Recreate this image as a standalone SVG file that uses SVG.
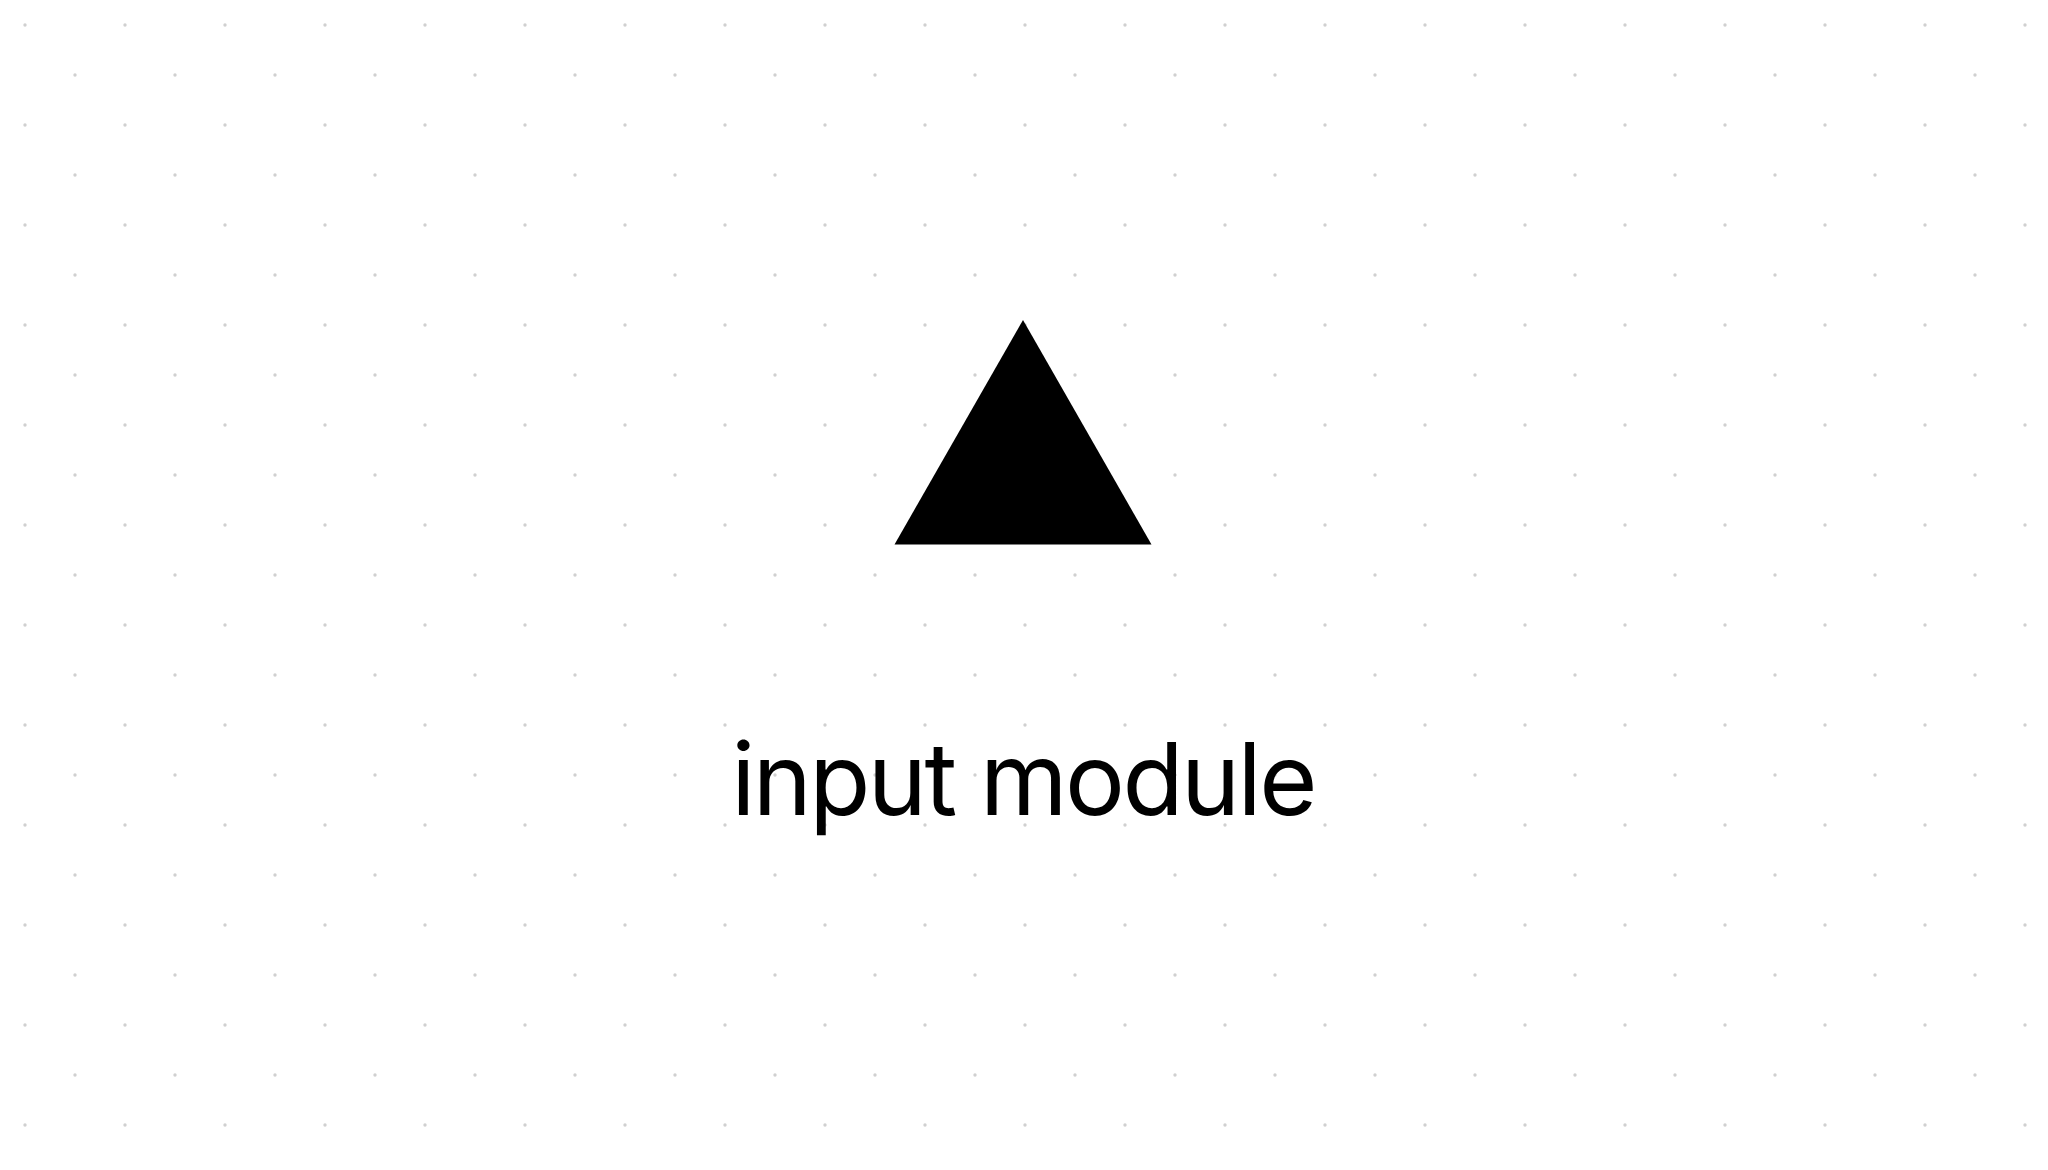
<svg xmlns="http://www.w3.org/2000/svg" width="2048" height="1170" viewBox="0 0 2048 1170">
  <defs>
    <pattern id="dots" x="0" y="0" width="100" height="100" patternUnits="userSpaceOnUse">
      <circle cx="25" cy="25" r="1.7" fill="#d0d0d0"/>
      <circle cx="75" cy="75" r="1.7" fill="#d0d0d0"/>
    </pattern>
  </defs>
  <style>
    .label { font-family: Inter, "Liberation Sans", sans-serif; font-size: 100px; letter-spacing: -2.6px; fill: #000000; }
  </style>
  <rect x="0" y="0" width="2048" height="1170" fill="#ffffff"/>
  <rect x="0" y="0" width="2048" height="1170" fill="url(#dots)"/>
  <g id="input-module">
    <polygon points="1023,320 894.5,544.5 1151.5,544.5" fill="#000000"/>
    <text class="label" x="1023" y="815" text-anchor="middle">input module</text>
  </g>
  <g id="connectors"></g>
</svg>
